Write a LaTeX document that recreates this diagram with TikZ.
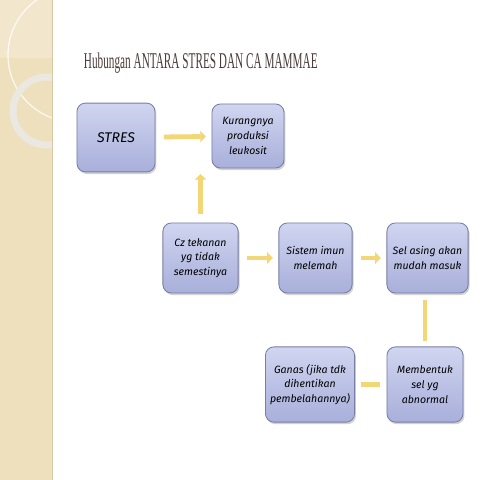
\documentclass[tikz,border=0pt]{standalone}
\usepackage{fontspec}
\setmainfont{Liberation Serif}
\newfontfamily\kastenschrift{Fira Sans}
\usetikzlibrary{positioning, shapes, calc, arrows.meta, shadows}

\definecolor{streifen}{RGB}{238,224,188}
\definecolor{streifenrand}{RGB}{214,200,166}
\definecolor{ringgrau}{RGB}{234,232,225}
\definecolor{titelfarbe}{RGB}{74,58,56}
\definecolor{kastenhell}{RGB}{208,213,240}
\definecolor{kastendunkel}{RGB}{168,175,218}
\definecolor{kastenrand}{RGB}{120,126,164}
\definecolor{pfeilgelb}{RGB}{243,214,118}

\tikzset{
    kasten/.style={
        rectangle,
        rounded corners=6pt,        % weiche Ecken wie im Original
        draw=kastenrand,
        line width=0.6pt,
        top color=kastenhell,
        bottom color=kastendunkel,
        drop shadow={shadow xshift=1pt, shadow yshift=-1.5pt, opacity=0.35},
        align=center,
        text=black,
        font=\kastenschrift\itshape\fontsize{7.5}{10.5}\selectfont
    },
    pfeil/.style={
        draw=pfeilgelb,
        line width=3.4pt,           % breite gelbe Balken
        -{Triangle[length=4pt, width=8pt]},
        shorten <=6pt,
        shorten >=4pt
    },
    linie/.style={
        draw=pfeilgelb,
        line width=3.4pt,
        shorten <=5pt,
        shorten >=4pt
    }
}

\begin{document}
\begin{tikzpicture}[x=0.025cm, y=-0.025cm]

    % Hintergrund: weiße Fläche mit beigem Streifen links
    \useasboundingbox (0,0) rectangle (480,480);
    \fill[white] (0,0) rectangle (480,480);
    \fill[streifen] (0,0) rectangle (52,480);
    \fill[white, opacity=0.25] (0,0) rectangle (52,58);
    \begin{scope}
        \clip (0,0) rectangle (52,480);
        \draw[white, opacity=0.8, line width=0.9pt] (75,55) circle (67);
        \draw[ringgrau, line width=5pt] (47,111) circle (34);
    \end{scope}
    \draw[streifenrand, line width=0.6pt] (52,0) -- (52,480);

    % Überschrift
    \node[anchor=west, text=titelfarbe, font=\fontsize{16}{18}\selectfont] (titel) at (79,63)
        {\scalebox{0.5}[1]{Hubungan ANTARA STRES DAN CA MAMMAE}};

    % Kästen (Positionen in Pixeln des Vorbilds)
    \node[kasten, minimum width=1.95cm, minimum height=1.72cm, font=\kastenschrift\itshape\fontsize{10}{12}\selectfont] (stres) at (116,137.5) {STRES};
    \node[kasten, minimum width=1.80cm, minimum height=1.60cm] (kurang) at (248,136) {Kurangnya\\produksi\\leukosit};
    \node[kasten, minimum width=1.88cm, minimum height=1.75cm] (tekanan) at (200.5,258) {Cz tekanan\\yg tidak\\semestinya};
    \node[kasten, minimum width=1.83cm, minimum height=1.75cm] (imun) at (315.5,258) {Sistem imun\\melemah};
    \node[kasten, minimum width=2.03cm, minimum height=1.75cm] (asing) at (427.5,258) {Sel asing akan\\mudah masuk};
    \node[kasten, minimum width=1.90cm, minimum height=1.88cm] (abnormal) at (425,384.5) {Membentuk\\sel yg\\abnormal};
    \node[kasten, minimum width=2.10cm, minimum height=1.88cm] (ganas) at (310,384.5) {Ganas (jika tdk\\dihentikan\\pembelahannya)};

    % Verbindungen
    \draw[pfeil] (stres) -- (kurang);
    \draw[pfeil] (tekanan.north) -- (tekanan.north |- kurang.south);
    \draw[pfeil] (tekanan) -- (imun);
    \draw[pfeil] (imun) -- (asing);
    \draw[linie] (asing.south -| abnormal.north) -- (abnormal.north);
    \draw[linie] (abnormal) -- (ganas);

\end{tikzpicture}
\end{document}
